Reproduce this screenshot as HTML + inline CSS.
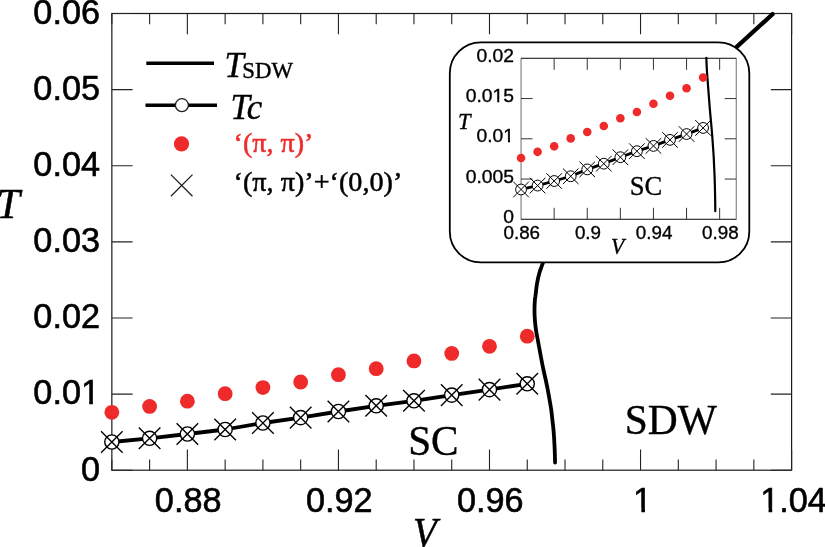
<!DOCTYPE html>
<html lang="en"><head><meta charset="utf-8"><title>Phase diagram</title>
<style>html,body{margin:0;padding:0;background:#fff;}svg{display:block;}.sans{font-family:"Liberation Sans",sans-serif;}.serif{font-family:"Liberation Serif",serif;}.it{font-family:"Liberation Serif",serif;font-style:italic;}</style></head><body>
<svg width="825" height="547" viewBox="0 0 825 547">
<rect x="0" y="0" width="825" height="547" fill="#fff"/>
<g stroke="#1a1a1a" fill="none" stroke-width="1.2">
<rect x="111.85" y="13.50" width="679.75" height="456.70"/>
</g>
<g stroke="#262223" fill="none" stroke-width="1.1">
<path d="M111.85 470.20 v-10.80 M111.85 13.50 v10.80"/>
<path d="M149.61 470.20 v-10.80 M149.61 13.50 v10.80"/>
<path d="M187.38 470.20 v-20.80 M187.38 13.50 v20.80"/>
<path d="M225.14 470.20 v-10.80 M225.14 13.50 v10.80"/>
<path d="M262.91 470.20 v-10.80 M262.91 13.50 v10.80"/>
<path d="M300.67 470.20 v-10.80 M300.67 13.50 v10.80"/>
<path d="M338.43 470.20 v-20.80 M338.43 13.50 v20.80"/>
<path d="M376.20 470.20 v-10.80 M376.20 13.50 v10.80"/>
<path d="M413.96 470.20 v-10.80 M413.96 13.50 v10.80"/>
<path d="M451.72 470.20 v-10.80 M451.72 13.50 v10.80"/>
<path d="M489.49 470.20 v-20.80 M489.49 13.50 v20.80"/>
<path d="M527.25 470.20 v-10.80 M527.25 13.50 v10.80"/>
<path d="M565.02 470.20 v-10.80 M565.02 13.50 v10.80"/>
<path d="M602.78 470.20 v-10.80 M602.78 13.50 v10.80"/>
<path d="M640.54 470.20 v-20.80 M640.54 13.50 v20.80"/>
<path d="M678.31 470.20 v-10.80 M678.31 13.50 v10.80"/>
<path d="M716.07 470.20 v-10.80 M716.07 13.50 v10.80"/>
<path d="M753.84 470.20 v-10.80 M753.84 13.50 v10.80"/>
<path d="M791.60 470.20 v-20.80 M791.60 13.50 v20.80"/>
<path d="M111.85 470.20 h20.80 M791.60 470.20 h-20.80"/>
<path d="M111.85 394.08 h20.80 M791.60 394.08 h-20.80"/>
<path d="M111.85 317.97 h20.80 M791.60 317.97 h-20.80"/>
<path d="M111.85 241.85 h20.80 M791.60 241.85 h-20.80"/>
<path d="M111.85 165.73 h20.80 M791.60 165.73 h-20.80"/>
<path d="M111.85 89.62 h20.80 M791.60 89.62 h-20.80"/>
<path d="M111.85 13.50 h20.80 M791.60 13.50 h-20.80"/>
</g>
<g>
<text class="sans" transform="translate(100.00 480.60) scale(0.9900 1)" font-size="34.60" text-anchor="end" fill="#000" stroke="#000" stroke-width="0.6">0</text>
<text class="sans" transform="translate(100.00 404.48) scale(0.9900 1)" font-size="34.60" text-anchor="end" fill="#000" stroke="#000" stroke-width="0.6">0.01</text><rect x="82.65" y="400.49" width="6.59" height="5.20" fill="#fff"/><rect x="92.90" y="400.49" width="6.32" height="5.20" fill="#fff"/>
<text class="sans" transform="translate(100.00 328.37) scale(0.9900 1)" font-size="34.60" text-anchor="end" fill="#000" stroke="#000" stroke-width="0.6">0.02</text>
<text class="sans" transform="translate(100.00 252.25) scale(0.9900 1)" font-size="34.60" text-anchor="end" fill="#000" stroke="#000" stroke-width="0.6">0.03</text>
<text class="sans" transform="translate(100.00 176.13) scale(0.9900 1)" font-size="34.60" text-anchor="end" fill="#000" stroke="#000" stroke-width="0.6">0.04</text>
<text class="sans" transform="translate(100.00 100.02) scale(0.9900 1)" font-size="34.60" text-anchor="end" fill="#000" stroke="#000" stroke-width="0.6">0.05</text>
<text class="sans" transform="translate(100.00 23.90) scale(0.9900 1)" font-size="34.60" text-anchor="end" fill="#000" stroke="#000" stroke-width="0.6">0.06</text>
<text class="sans" transform="translate(188.18 512.00) scale(0.9900 1)" font-size="34.60" text-anchor="middle" fill="#000" stroke="#000" stroke-width="0.6">0.88</text>
<text class="sans" transform="translate(339.23 512.00) scale(0.9900 1)" font-size="34.60" text-anchor="middle" fill="#000" stroke="#000" stroke-width="0.6">0.92</text>
<text class="sans" transform="translate(490.29 512.00) scale(0.9900 1)" font-size="34.60" text-anchor="middle" fill="#000" stroke="#000" stroke-width="0.6">0.96</text>
<text class="sans" transform="translate(642.54 512.00) scale(0.9900 1)" font-size="34.60" text-anchor="middle" fill="#000" stroke="#000" stroke-width="0.6">1</text><rect x="634.72" y="508.00" width="6.59" height="5.20" fill="#fff"/><rect x="644.97" y="508.00" width="6.32" height="5.20" fill="#fff"/>
<text class="sans" transform="translate(793.60 512.00) scale(0.9900 1)" font-size="34.60" text-anchor="middle" fill="#000" stroke="#000" stroke-width="0.6">1.04</text><rect x="761.97" y="508.00" width="6.59" height="5.20" fill="#fff"/><rect x="772.21" y="508.00" width="6.32" height="5.20" fill="#fff"/>
</g>
<text class="it" transform="translate(-3.40 218.00) scale(1.0000 1)" font-size="42.00" text-anchor="start" fill="#000" stroke="#000" stroke-width="0.5">T</text>
<text class="it" transform="translate(412.90 547.40) scale(0.9250 1)" font-size="42.00" text-anchor="start" fill="#000" stroke="#000" stroke-width="0.5">V</text>
<path d="M543.40 261.50 L543.38 261.56 L543.38 261.56 L543.39 261.57 L543.37 261.61 L543.34 261.73 L543.25 261.97 L543.11 262.38 L542.90 263.00 L542.59 263.86 L542.19 264.94 L541.72 266.19 L541.22 267.56 L540.70 269.00 L540.19 270.47 L539.71 271.92 L539.30 273.30 L538.94 274.64 L538.59 276.01 L538.26 277.39 L537.96 278.77 L537.67 280.17 L537.39 281.55 L537.14 282.93 L536.90 284.30 L536.68 285.69 L536.48 287.13 L536.31 288.58 L536.14 290.03 L536.00 291.42 L535.86 292.73 L535.73 293.94 L535.60 295.00 L535.48 295.86 L535.38 296.53 L535.28 297.07 L535.19 297.54 L535.11 298.01 L535.04 298.53 L534.97 299.17 L534.90 300.00 L534.83 301.01 L534.76 302.15 L534.69 303.38 L534.63 304.69 L534.58 306.03 L534.54 307.38 L534.51 308.72 L534.50 310.00 L534.51 311.25 L534.53 312.50 L534.56 313.75 L534.61 315.00 L534.66 316.25 L534.73 317.50 L534.81 318.75 L534.90 320.00 L535.00 321.25 L535.11 322.50 L535.23 323.75 L535.36 325.00 L535.51 326.25 L535.66 327.50 L535.82 328.75 L536.00 330.00 L536.19 331.25 L536.40 332.50 L536.62 333.75 L536.85 335.00 L537.09 336.25 L537.33 337.50 L537.57 338.75 L537.80 340.00 L538.03 341.25 L538.26 342.50 L538.49 343.75 L538.72 345.00 L538.95 346.25 L539.19 347.50 L539.42 348.75 L539.65 350.00 L539.88 351.25 L540.11 352.50 L540.34 353.75 L540.57 355.00 L540.80 356.25 L541.03 357.50 L541.26 358.75 L541.50 360.00 L541.74 361.25 L541.98 362.50 L542.23 363.75 L542.48 365.00 L542.73 366.25 L542.98 367.50 L543.24 368.75 L543.50 370.00 L543.77 371.25 L544.05 372.50 L544.33 373.75 L544.62 375.00 L544.91 376.25 L545.20 377.50 L545.48 378.75 L545.75 380.00 L546.02 381.25 L546.28 382.50 L546.54 383.75 L546.80 385.00 L547.06 386.25 L547.31 387.50 L547.56 388.75 L547.80 390.00 L548.04 391.25 L548.27 392.50 L548.50 393.75 L548.73 395.00 L548.95 396.25 L549.17 397.50 L549.38 398.75 L549.60 400.00 L549.82 401.25 L550.03 402.50 L550.25 403.75 L550.47 405.00 L550.67 406.25 L550.88 407.50 L551.07 408.75 L551.25 410.00 L551.42 411.25 L551.57 412.50 L551.72 413.75 L551.86 415.00 L551.99 416.25 L552.13 417.50 L552.26 418.75 L552.40 420.00 L552.54 421.25 L552.69 422.50 L552.83 423.75 L552.98 425.00 L553.12 426.25 L553.25 427.50 L553.38 428.75 L553.50 430.00 L553.61 431.25 L553.71 432.50 L553.80 433.75 L553.89 435.00 L553.97 436.25 L554.05 437.50 L554.12 438.75 L554.20 440.00 L554.27 441.25 L554.34 442.50 L554.41 443.75 L554.48 445.00 L554.54 446.25 L554.59 447.50 L554.65 448.75 L554.70 450.00 L554.75 451.30 L554.79 452.67 L554.84 454.08 L554.88 455.46 L554.91 456.79 L554.95 458.02 L554.98 459.10 L555.00 460.00 L555.02 460.70 L555.03 461.23 L555.04 461.63 L555.04 461.93 L555.05 462.14 L555.05 462.31 L555.05 462.45 L555.05 462.60" fill="none" stroke="#000" stroke-width="3.8" stroke-linecap="round" stroke-linejoin="round"/>
<path d="M772.6 14.1 L728 54.9" fill="none" stroke="#000" stroke-width="4.2" stroke-linecap="round"/>
<path d="M111.85 442.00 L149.61 438.30 L187.38 434.00 L225.14 429.50 L262.91 423.00 L300.67 417.60 L338.43 411.50 L376.20 405.80 L413.96 400.80 L451.72 395.10 L489.49 389.60 L527.25 383.80" fill="none" stroke="#000" stroke-width="3.8" stroke-linejoin="round"/>
<g fill="#fff" stroke="#000" stroke-width="1.4">
<circle cx="111.85" cy="442.00" r="7.1"/>
<circle cx="149.61" cy="438.30" r="7.1"/>
<circle cx="187.38" cy="434.00" r="7.1"/>
<circle cx="225.14" cy="429.50" r="7.1"/>
<circle cx="262.91" cy="423.00" r="7.1"/>
<circle cx="300.67" cy="417.60" r="7.1"/>
<circle cx="338.43" cy="411.50" r="7.1"/>
<circle cx="376.20" cy="405.80" r="7.1"/>
<circle cx="413.96" cy="400.80" r="7.1"/>
<circle cx="451.72" cy="395.10" r="7.1"/>
<circle cx="489.49" cy="389.60" r="7.1"/>
<circle cx="527.25" cy="383.80" r="7.1"/>
</g>
<g fill="none" stroke="#000" stroke-width="1.35">
<path d="M101.05 431.20 l21.60 21.60 M101.05 452.80 l21.60 -21.60"/>
<path d="M138.81 427.50 l21.60 21.60 M138.81 449.10 l21.60 -21.60"/>
<path d="M176.58 423.20 l21.60 21.60 M176.58 444.80 l21.60 -21.60"/>
<path d="M214.34 418.70 l21.60 21.60 M214.34 440.30 l21.60 -21.60"/>
<path d="M252.11 412.20 l21.60 21.60 M252.11 433.80 l21.60 -21.60"/>
<path d="M289.87 406.80 l21.60 21.60 M289.87 428.40 l21.60 -21.60"/>
<path d="M327.63 400.70 l21.60 21.60 M327.63 422.30 l21.60 -21.60"/>
<path d="M365.40 395.00 l21.60 21.60 M365.40 416.60 l21.60 -21.60"/>
<path d="M403.16 390.00 l21.60 21.60 M403.16 411.60 l21.60 -21.60"/>
<path d="M440.92 384.30 l21.60 21.60 M440.92 405.90 l21.60 -21.60"/>
<path d="M478.69 378.80 l21.60 21.60 M478.69 400.40 l21.60 -21.60"/>
<path d="M516.45 373.00 l21.60 21.60 M516.45 394.60 l21.60 -21.60"/>
</g>
<g fill="#ee2a2a">
<circle cx="111.85" cy="412.30" r="7.4"/>
<circle cx="149.61" cy="406.40" r="7.4"/>
<circle cx="187.38" cy="401.20" r="7.4"/>
<circle cx="225.14" cy="393.70" r="7.4"/>
<circle cx="262.91" cy="387.60" r="7.4"/>
<circle cx="300.67" cy="382.00" r="7.4"/>
<circle cx="338.43" cy="374.70" r="7.4"/>
<circle cx="376.20" cy="368.70" r="7.4"/>
<circle cx="413.96" cy="360.90" r="7.4"/>
<circle cx="451.72" cy="353.40" r="7.4"/>
<circle cx="489.49" cy="346.30" r="7.4"/>
<circle cx="527.25" cy="336.20" r="7.4"/>
</g>
<text class="serif" transform="translate(408.20 455.00) scale(0.9700 1)" font-size="42.50" text-anchor="start" fill="#000" stroke="#000" stroke-width="0.4">SC</text>
<text class="serif" transform="translate(624.70 434.40) scale(0.9750 1)" font-size="42.50" text-anchor="start" fill="#000" stroke="#000" stroke-width="0.4">SDW</text>
<path d="M146.3 63.3 H214" stroke="#000" stroke-width="3.6" fill="none"/>
<path d="M145.5 105.2 H217" stroke="#000" stroke-width="3.6" fill="none"/>
<circle cx="181.9" cy="105.2" r="6.5" fill="#fff" stroke="#231f20" stroke-width="1.3"/>
<circle cx="181.5" cy="143.8" r="7.6" fill="#ee2a2a"/>
<path d="M170.90 174.60 l21.60 21.60 M170.90 196.20 l21.60 -21.60" stroke="#231f20" stroke-width="1.3" fill="none"/>
<text class="it" x="224.6" y="76.8" font-size="34.8" fill="#000" stroke="#000" stroke-width="0.4">T<tspan class="serif" font-style="normal" font-size="22.8" dx="-1.6" dy="1.4">SDW</tspan></text>
<text class="it" x="230.6" y="119" font-size="34.8" fill="#000" stroke="#000" stroke-width="0.4">Tc</text>
<text class="serif" x="233.6" y="152.2" font-size="28.1" fill="#ee2a2a" stroke="#ee2a2a" stroke-width="0.5">‘(π, π)’</text>
<text class="serif" x="233.6" y="191.1" font-size="28.2" fill="#000" stroke="#000" stroke-width="0.5">‘(π, π)’+‘(0,0)’</text>
<rect x="449.8" y="42.3" width="299.5" height="220.15" rx="31" ry="31" fill="#fff" stroke="#000" stroke-width="1.8"/>
<g stroke="#555" fill="none" stroke-width="0.85"><rect x="521.05" y="58.30" width="215.15" height="161.00"/></g>
<g stroke="#333" fill="none" stroke-width="1">
<path d="M521.05 58.30 H736.20 M521.05 219.30 H736.20"/>
<path d="M554.15 219.30 v-11.50 M554.15 58.30 v11.50"/>
<path d="M587.25 219.30 v-11.50 M587.25 58.30 v11.50"/>
<path d="M620.35 219.30 v-11.50 M620.35 58.30 v11.50"/>
<path d="M653.45 219.30 v-11.50 M653.45 58.30 v11.50"/>
<path d="M686.55 219.30 v-11.50 M686.55 58.30 v11.50"/>
<path d="M719.65 219.30 v-11.50 M719.65 58.30 v11.50"/>
<path d="M521.05 179.05 h11.50 M736.20 179.05 h-11.50"/>
<path d="M521.05 138.80 h11.50 M736.20 138.80 h-11.50"/>
<path d="M521.05 98.55 h11.50 M736.20 98.55 h-11.50"/>
</g>
<text class="sans" transform="translate(514.00 222.90) scale(1.0150 1)" font-size="19.00" text-anchor="end" fill="#000" stroke="#000" stroke-width="0.35">0</text>
<text class="sans" transform="translate(514.00 182.65) scale(1.0150 1)" font-size="19.00" text-anchor="end" fill="#000" stroke="#000" stroke-width="0.35">0.005</text>
<text class="sans" transform="translate(514.00 142.40) scale(1.0150 1)" font-size="19.00" text-anchor="end" fill="#000" stroke="#000" stroke-width="0.35">0.01</text><rect x="503.97" y="139.70" width="3.97" height="3.77" fill="#fff"/><rect x="510.01" y="139.70" width="3.82" height="3.77" fill="#fff"/>
<text class="sans" transform="translate(514.00 102.15) scale(1.0150 1)" font-size="19.00" text-anchor="end" fill="#000" stroke="#000" stroke-width="0.35">0.015</text><rect x="493.24" y="99.45" width="3.97" height="3.77" fill="#fff"/><rect x="499.28" y="99.45" width="3.82" height="3.77" fill="#fff"/>
<text class="sans" transform="translate(514.00 61.90) scale(1.0150 1)" font-size="19.00" text-anchor="end" fill="#000" stroke="#000" stroke-width="0.35">0.02</text>
<text class="sans" transform="translate(521.75 238.90) scale(0.9900 1)" font-size="19.00" text-anchor="middle" fill="#000" stroke="#000" stroke-width="0.35">0.86</text>
<text class="sans" transform="translate(587.95 238.90) scale(0.9900 1)" font-size="19.00" text-anchor="middle" fill="#000" stroke="#000" stroke-width="0.35">0.9</text>
<text class="sans" transform="translate(654.15 238.90) scale(0.9900 1)" font-size="19.00" text-anchor="middle" fill="#000" stroke="#000" stroke-width="0.35">0.94</text>
<text class="sans" transform="translate(720.35 238.90) scale(0.9900 1)" font-size="19.00" text-anchor="middle" fill="#000" stroke="#000" stroke-width="0.35">0.98</text>
<text class="it" transform="translate(458.00 128.80) scale(1.0000 1)" font-size="22.50" text-anchor="start" fill="#000" stroke="#000" stroke-width="0.35">T</text>
<text class="it" transform="translate(611.00 254.00) scale(0.9000 1)" font-size="24.00" text-anchor="start" fill="#000" stroke="#000" stroke-width="0.35">V</text>
<text class="serif" transform="translate(629.80 194.90) scale(0.9850 1)" font-size="27.00" text-anchor="start" fill="#000" stroke="#000" stroke-width="0.35">SC</text>
<path d="M706.38 57.81 L706.41 59.13 L706.45 60.45 L706.49 61.77 L706.54 63.09 L706.60 64.42 L706.65 65.74 L706.72 67.06 L706.78 68.38 L706.86 69.70 L706.93 71.03 L707.02 72.35 L707.11 73.67 L707.21 74.99 L707.31 76.31 L707.41 77.64 L707.52 78.96 L707.62 80.28 L707.72 81.60 L707.82 82.92 L707.92 84.25 L708.02 85.57 L708.13 86.89 L708.23 88.21 L708.33 89.53 L708.43 90.86 L708.53 92.18 L708.63 93.50 L708.73 94.82 L708.83 96.14 L708.93 97.47 L709.03 98.79 L709.14 100.11 L709.24 101.43 L709.34 102.75 L709.45 104.08 L709.56 105.40 L709.66 106.72 L709.77 108.04 L709.88 109.36 L709.99 110.69 L710.11 112.01 L710.22 113.33 L710.34 114.65 L710.46 115.97 L710.59 117.30 L710.71 118.62 L710.84 119.94 L710.96 121.26 L711.09 122.58 L711.21 123.91 L711.32 125.23 L711.44 126.55 L711.55 127.87 L711.67 129.19 L711.78 130.52 L711.89 131.84 L712.00 133.16 L712.10 134.48 L712.21 135.80 L712.31 137.13 L712.41 138.45 L712.51 139.77 L712.61 141.09 L712.70 142.41 L712.80 143.74 L712.89 145.06 L712.99 146.38 L713.08 147.70 L713.18 149.02 L713.27 150.35 L713.36 151.67 L713.45 152.99 L713.54 154.31 L713.62 155.63 L713.69 156.96 L713.76 158.28 L713.82 159.60 L713.88 160.92 L713.94 162.24 L714.00 163.57 L714.06 164.89 L714.12 166.21 L714.18 167.53 L714.25 168.85 L714.31 170.18 L714.37 171.50 L714.44 172.82 L714.50 174.14 L714.55 175.46 L714.60 176.79 L714.65 178.11 L714.69 179.43 L714.73 180.75 L714.77 182.07 L714.81 183.39 L714.84 184.72 L714.88 186.04 L714.91 187.36 L714.94 188.68 L714.97 190.00 L715.00 191.33 L715.03 192.65 L715.06 193.97 L715.08 195.29 L715.11 196.61 L715.13 197.94 L715.15 199.31 L715.17 200.76 L715.19 202.25 L715.21 203.71 L715.22 205.12 L715.24 206.42 L715.25 207.57 L715.26 208.51 L715.27 209.25 L715.27 209.81 L715.28 210.24 L715.28 210.55 L715.28 210.78 L715.28 210.95 L715.28 211.10 L715.28 211.26" fill="none" stroke="#000" stroke-width="2.2" stroke-linecap="round" stroke-linejoin="round"/>
<path d="M521.05 189.48 L537.60 185.56 L554.15 181.02 L570.70 176.26 L587.25 169.38 L603.80 163.67 L620.35 157.22 L636.90 151.19 L653.45 145.90 L670.00 139.88 L686.55 134.06 L703.10 127.92" fill="none" stroke="#000" stroke-width="2.8" stroke-linejoin="round"/>
<g fill="#fff" stroke="#000" stroke-width="1.0">
<circle cx="521.05" cy="189.48" r="5.4"/>
<circle cx="537.60" cy="185.56" r="5.4"/>
<circle cx="554.15" cy="181.02" r="5.4"/>
<circle cx="570.70" cy="176.26" r="5.4"/>
<circle cx="587.25" cy="169.38" r="5.4"/>
<circle cx="603.80" cy="163.67" r="5.4"/>
<circle cx="620.35" cy="157.22" r="5.4"/>
<circle cx="636.90" cy="151.19" r="5.4"/>
<circle cx="653.45" cy="145.90" r="5.4"/>
<circle cx="670.00" cy="139.88" r="5.4"/>
<circle cx="686.55" cy="134.06" r="5.4"/>
<circle cx="703.10" cy="127.92" r="5.4"/>
</g>
<g fill="none" stroke="#000" stroke-width="1.0">
<path d="M513.25 181.68 l15.60 15.60 M513.25 197.28 l15.60 -15.60"/>
<path d="M529.80 177.76 l15.60 15.60 M529.80 193.36 l15.60 -15.60"/>
<path d="M546.35 173.22 l15.60 15.60 M546.35 188.82 l15.60 -15.60"/>
<path d="M562.90 168.46 l15.60 15.60 M562.90 184.06 l15.60 -15.60"/>
<path d="M579.45 161.58 l15.60 15.60 M579.45 177.18 l15.60 -15.60"/>
<path d="M596.00 155.87 l15.60 15.60 M596.00 171.47 l15.60 -15.60"/>
<path d="M612.55 149.42 l15.60 15.60 M612.55 165.02 l15.60 -15.60"/>
<path d="M629.10 143.39 l15.60 15.60 M629.10 158.99 l15.60 -15.60"/>
<path d="M645.65 138.10 l15.60 15.60 M645.65 153.70 l15.60 -15.60"/>
<path d="M662.20 132.08 l15.60 15.60 M662.20 147.68 l15.60 -15.60"/>
<path d="M678.75 126.26 l15.60 15.60 M678.75 141.86 l15.60 -15.60"/>
<path d="M695.30 120.12 l15.60 15.60 M695.30 135.72 l15.60 -15.60"/>
</g>
<g fill="#ee2a2a">
<circle cx="521.05" cy="158.07" r="4.3"/>
<circle cx="537.60" cy="151.83" r="4.3"/>
<circle cx="554.15" cy="146.33" r="4.3"/>
<circle cx="570.70" cy="138.39" r="4.3"/>
<circle cx="587.25" cy="131.94" r="4.3"/>
<circle cx="603.80" cy="126.02" r="4.3"/>
<circle cx="620.35" cy="118.30" r="4.3"/>
<circle cx="636.90" cy="111.95" r="4.3"/>
<circle cx="653.45" cy="103.71" r="4.3"/>
<circle cx="670.00" cy="95.77" r="4.3"/>
<circle cx="686.55" cy="88.26" r="4.3"/>
<circle cx="703.10" cy="77.58" r="4.3"/>
</g>
</svg></body></html>
